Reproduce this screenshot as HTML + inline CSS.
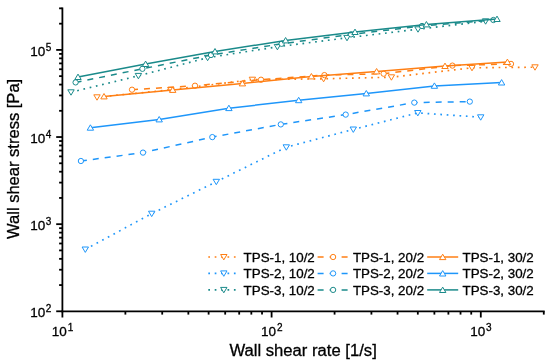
<!DOCTYPE html>
<html><head><meta charset="utf-8"><title>Wall shear stress vs wall shear rate</title>
<style>html,body{margin:0;padding:0;background:#fff}body{width:550px;height:363px;overflow:hidden;font-family:"Liberation Sans",Arial,sans-serif}</style>
</head><body>
<svg width="550" height="363" viewBox="0 0 550 363" style="display:block">
<rect width="550" height="363" fill="#fff"/>
<g><path d="M97.00 97.20 L170.80 89.80 L252.40 79.60 L323.60 78.80 L391.40 77.20 L472.00 67.80 L535.00 67.20" fill="none" stroke="#FF7F14" stroke-width="1.65" stroke-dasharray="1.7 4.7"/>
<polygon points="97.00,100.20 93.80,94.80 100.20,94.80" fill="#fff" stroke="#FF7F14" stroke-width="1" stroke-linejoin="miter"/>
<polygon points="170.80,92.80 167.60,87.40 174.00,87.40" fill="#fff" stroke="#FF7F14" stroke-width="1" stroke-linejoin="miter"/>
<polygon points="252.40,82.60 249.20,77.20 255.60,77.20" fill="#fff" stroke="#FF7F14" stroke-width="1" stroke-linejoin="miter"/>
<polygon points="323.60,81.80 320.40,76.40 326.80,76.40" fill="#fff" stroke="#FF7F14" stroke-width="1" stroke-linejoin="miter"/>
<polygon points="391.40,80.20 388.20,74.80 394.60,74.80" fill="#fff" stroke="#FF7F14" stroke-width="1" stroke-linejoin="miter"/>
<polygon points="472.00,70.80 468.80,65.40 475.20,65.40" fill="#fff" stroke="#FF7F14" stroke-width="1" stroke-linejoin="miter"/>
<polygon points="535.00,70.20 531.80,64.80 538.20,64.80" fill="#fff" stroke="#FF7F14" stroke-width="1" stroke-linejoin="miter"/>
</g>
<g><path d="M132.00 89.70 L195.00 85.70 L261.00 79.70 L324.40 75.10 L383.60 73.70 L452.40 65.60 L511.00 63.90" fill="none" stroke="#FF7F14" stroke-width="1.5" stroke-dasharray="6 6"/>
<circle cx="132.00" cy="89.70" r="2.65" fill="#fff" stroke="#FF7F14" stroke-width="1"/>
<circle cx="195.00" cy="85.70" r="2.65" fill="#fff" stroke="#FF7F14" stroke-width="1"/>
<circle cx="261.00" cy="79.70" r="2.65" fill="#fff" stroke="#FF7F14" stroke-width="1"/>
<circle cx="324.40" cy="75.10" r="2.65" fill="#fff" stroke="#FF7F14" stroke-width="1"/>
<circle cx="383.60" cy="73.70" r="2.65" fill="#fff" stroke="#FF7F14" stroke-width="1"/>
<circle cx="452.40" cy="65.60" r="2.65" fill="#fff" stroke="#FF7F14" stroke-width="1"/>
<circle cx="511.00" cy="63.90" r="2.65" fill="#fff" stroke="#FF7F14" stroke-width="1"/>
</g>
<g><path d="M104.00 96.50 L172.70 90.00 L242.40 83.50 L311.40 76.50 L376.60 71.50 L445.00 66.10 L507.40 62.10" fill="none" stroke="#FF7F14" stroke-width="1.5"/>
<polygon points="104.00,93.50 100.80,98.90 107.20,98.90" fill="#fff" stroke="#FF7F14" stroke-width="1" stroke-linejoin="miter"/>
<polygon points="172.70,87.00 169.50,92.40 175.90,92.40" fill="#fff" stroke="#FF7F14" stroke-width="1" stroke-linejoin="miter"/>
<polygon points="242.40,80.50 239.20,85.90 245.60,85.90" fill="#fff" stroke="#FF7F14" stroke-width="1" stroke-linejoin="miter"/>
<polygon points="311.40,73.50 308.20,78.90 314.60,78.90" fill="#fff" stroke="#FF7F14" stroke-width="1" stroke-linejoin="miter"/>
<polygon points="376.60,68.50 373.40,73.90 379.80,73.90" fill="#fff" stroke="#FF7F14" stroke-width="1" stroke-linejoin="miter"/>
<polygon points="445.00,63.10 441.80,68.50 448.20,68.50" fill="#fff" stroke="#FF7F14" stroke-width="1" stroke-linejoin="miter"/>
<polygon points="507.40,59.10 504.20,64.50 510.60,64.50" fill="#fff" stroke="#FF7F14" stroke-width="1" stroke-linejoin="miter"/>
</g>
<g><path d="M85.30 249.40 L151.70 213.60 L216.30 181.70 L286.30 147.20 L353.30 129.40 L417.80 112.90 L480.70 117.20" fill="none" stroke="#1E96FA" stroke-width="1.65" stroke-dasharray="1.7 4.7"/>
<polygon points="85.30,252.40 82.10,247.00 88.50,247.00" fill="#fff" stroke="#1E96FA" stroke-width="1" stroke-linejoin="miter"/>
<polygon points="151.70,216.60 148.50,211.20 154.90,211.20" fill="#fff" stroke="#1E96FA" stroke-width="1" stroke-linejoin="miter"/>
<polygon points="216.30,184.70 213.10,179.30 219.50,179.30" fill="#fff" stroke="#1E96FA" stroke-width="1" stroke-linejoin="miter"/>
<polygon points="286.30,150.20 283.10,144.80 289.50,144.80" fill="#fff" stroke="#1E96FA" stroke-width="1" stroke-linejoin="miter"/>
<polygon points="353.30,132.40 350.10,127.00 356.50,127.00" fill="#fff" stroke="#1E96FA" stroke-width="1" stroke-linejoin="miter"/>
<polygon points="417.80,115.90 414.60,110.50 421.00,110.50" fill="#fff" stroke="#1E96FA" stroke-width="1" stroke-linejoin="miter"/>
<polygon points="480.70,120.20 477.50,114.80 483.90,114.80" fill="#fff" stroke="#1E96FA" stroke-width="1" stroke-linejoin="miter"/>
</g>
<g><path d="M80.90 161.00 L143.00 152.60 L212.30 137.10 L280.80 124.40 L345.70 114.60 L414.30 102.60 L469.80 101.60" fill="none" stroke="#1E96FA" stroke-width="1.5" stroke-dasharray="6 6"/>
<circle cx="80.90" cy="161.00" r="2.65" fill="#fff" stroke="#1E96FA" stroke-width="1"/>
<circle cx="143.00" cy="152.60" r="2.65" fill="#fff" stroke="#1E96FA" stroke-width="1"/>
<circle cx="212.30" cy="137.10" r="2.65" fill="#fff" stroke="#1E96FA" stroke-width="1"/>
<circle cx="280.80" cy="124.40" r="2.65" fill="#fff" stroke="#1E96FA" stroke-width="1"/>
<circle cx="345.70" cy="114.60" r="2.65" fill="#fff" stroke="#1E96FA" stroke-width="1"/>
<circle cx="414.30" cy="102.60" r="2.65" fill="#fff" stroke="#1E96FA" stroke-width="1"/>
<circle cx="469.80" cy="101.60" r="2.65" fill="#fff" stroke="#1E96FA" stroke-width="1"/>
</g>
<g><path d="M90.40 127.80 L159.20 119.50 L228.90 108.20 L298.70 100.30 L366.30 93.50 L434.40 85.90 L501.60 82.60" fill="none" stroke="#1E96FA" stroke-width="1.5"/>
<polygon points="90.40,124.80 87.20,130.20 93.60,130.20" fill="#fff" stroke="#1E96FA" stroke-width="1" stroke-linejoin="miter"/>
<polygon points="159.20,116.50 156.00,121.90 162.40,121.90" fill="#fff" stroke="#1E96FA" stroke-width="1" stroke-linejoin="miter"/>
<polygon points="228.90,105.20 225.70,110.60 232.10,110.60" fill="#fff" stroke="#1E96FA" stroke-width="1" stroke-linejoin="miter"/>
<polygon points="298.70,97.30 295.50,102.70 301.90,102.70" fill="#fff" stroke="#1E96FA" stroke-width="1" stroke-linejoin="miter"/>
<polygon points="366.30,90.50 363.10,95.90 369.50,95.90" fill="#fff" stroke="#1E96FA" stroke-width="1" stroke-linejoin="miter"/>
<polygon points="434.40,82.90 431.20,88.30 437.60,88.30" fill="#fff" stroke="#1E96FA" stroke-width="1" stroke-linejoin="miter"/>
<polygon points="501.60,79.60 498.40,85.00 504.80,85.00" fill="#fff" stroke="#1E96FA" stroke-width="1" stroke-linejoin="miter"/>
</g>
<g><path d="M71.00 92.20 L138.40 75.80 L207.60 57.70 L277.40 46.80 L347.00 37.80 L418.00 29.20 L485.60 21.20" fill="none" stroke="#1A8A8A" stroke-width="1.65" stroke-dasharray="1.7 4.7"/>
<polygon points="71.00,95.20 67.80,89.80 74.20,89.80" fill="#fff" stroke="#1A8A8A" stroke-width="1" stroke-linejoin="miter"/>
<polygon points="138.40,78.80 135.20,73.40 141.60,73.40" fill="#fff" stroke="#1A8A8A" stroke-width="1" stroke-linejoin="miter"/>
<polygon points="207.60,60.70 204.40,55.30 210.80,55.30" fill="#fff" stroke="#1A8A8A" stroke-width="1" stroke-linejoin="miter"/>
<polygon points="277.40,49.80 274.20,44.40 280.60,44.40" fill="#fff" stroke="#1A8A8A" stroke-width="1" stroke-linejoin="miter"/>
<polygon points="347.00,40.80 343.80,35.40 350.20,35.40" fill="#fff" stroke="#1A8A8A" stroke-width="1" stroke-linejoin="miter"/>
<polygon points="418.00,32.20 414.80,26.80 421.20,26.80" fill="#fff" stroke="#1A8A8A" stroke-width="1" stroke-linejoin="miter"/>
<polygon points="485.60,24.20 482.40,18.80 488.80,18.80" fill="#fff" stroke="#1A8A8A" stroke-width="1" stroke-linejoin="miter"/>
</g>
<g><path d="M75.60 82.40 L142.40 68.80 L211.00 55.00 L281.60 43.80 L351.00 34.40 L422.00 26.00 L493.40 20.00" fill="none" stroke="#1A8A8A" stroke-width="1.5" stroke-dasharray="6 6"/>
<circle cx="75.60" cy="82.40" r="2.65" fill="#fff" stroke="#1A8A8A" stroke-width="1"/>
<circle cx="142.40" cy="68.80" r="2.65" fill="#fff" stroke="#1A8A8A" stroke-width="1"/>
<circle cx="211.00" cy="55.00" r="2.65" fill="#fff" stroke="#1A8A8A" stroke-width="1"/>
<circle cx="281.60" cy="43.80" r="2.65" fill="#fff" stroke="#1A8A8A" stroke-width="1"/>
<circle cx="351.00" cy="34.40" r="2.65" fill="#fff" stroke="#1A8A8A" stroke-width="1"/>
<circle cx="422.00" cy="26.00" r="2.65" fill="#fff" stroke="#1A8A8A" stroke-width="1"/>
<circle cx="493.40" cy="20.00" r="2.65" fill="#fff" stroke="#1A8A8A" stroke-width="1"/>
</g>
<g><path d="M78.00 77.10 L145.60 64.10 L215.00 51.50 L285.60 40.50 L355.00 32.10 L426.40 24.50 L497.00 19.10" fill="none" stroke="#1A8A8A" stroke-width="1.5"/>
<polygon points="78.00,74.10 74.80,79.50 81.20,79.50" fill="#fff" stroke="#1A8A8A" stroke-width="1" stroke-linejoin="miter"/>
<polygon points="145.60,61.10 142.40,66.50 148.80,66.50" fill="#fff" stroke="#1A8A8A" stroke-width="1" stroke-linejoin="miter"/>
<polygon points="215.00,48.50 211.80,53.90 218.20,53.90" fill="#fff" stroke="#1A8A8A" stroke-width="1" stroke-linejoin="miter"/>
<polygon points="285.60,37.50 282.40,42.90 288.80,42.90" fill="#fff" stroke="#1A8A8A" stroke-width="1" stroke-linejoin="miter"/>
<polygon points="355.00,29.10 351.80,34.50 358.20,34.50" fill="#fff" stroke="#1A8A8A" stroke-width="1" stroke-linejoin="miter"/>
<polygon points="426.40,21.50 423.20,26.90 429.60,26.90" fill="#fff" stroke="#1A8A8A" stroke-width="1" stroke-linejoin="miter"/>
<polygon points="497.00,16.10 493.80,21.50 500.20,21.50" fill="#fff" stroke="#1A8A8A" stroke-width="1" stroke-linejoin="miter"/>
</g>
<g stroke="#000" stroke-width="1.8" fill="none" stroke-linecap="butt">
<path d="M62.4 7.44 V312.20"/>
<path d="M61.50 311.3 H544.68"/>
<path d="M56.20 311.30 H62.4"/>
<path d="M59.10 285.07 H62.4"/>
<path d="M59.10 269.73 H62.4"/>
<path d="M59.10 258.84 H62.4"/>
<path d="M59.10 250.40 H62.4"/>
<path d="M59.10 243.50 H62.4"/>
<path d="M59.10 237.67 H62.4"/>
<path d="M59.10 232.61 H62.4"/>
<path d="M59.10 228.16 H62.4"/>
<path d="M56.20 224.17 H62.4"/>
<path d="M59.10 197.94 H62.4"/>
<path d="M59.10 182.60 H62.4"/>
<path d="M59.10 171.71 H62.4"/>
<path d="M59.10 163.27 H62.4"/>
<path d="M59.10 156.37 H62.4"/>
<path d="M59.10 150.54 H62.4"/>
<path d="M59.10 145.48 H62.4"/>
<path d="M59.10 141.03 H62.4"/>
<path d="M56.20 137.04 H62.4"/>
<path d="M59.10 110.81 H62.4"/>
<path d="M59.10 95.47 H62.4"/>
<path d="M59.10 84.58 H62.4"/>
<path d="M59.10 76.14 H62.4"/>
<path d="M59.10 69.24 H62.4"/>
<path d="M59.10 63.41 H62.4"/>
<path d="M59.10 58.35 H62.4"/>
<path d="M59.10 53.90 H62.4"/>
<path d="M56.20 49.91 H62.4"/>
<path d="M59.10 23.68 H62.4"/>
<path d="M59.10 8.34 H62.4"/>
<path d="M62.40 311.3 V317.50"/>
<path d="M125.38 311.3 V314.60"/>
<path d="M162.21 311.3 V314.60"/>
<path d="M188.35 311.3 V314.60"/>
<path d="M208.62 311.3 V314.60"/>
<path d="M225.19 311.3 V314.60"/>
<path d="M239.19 311.3 V314.60"/>
<path d="M251.33 311.3 V314.60"/>
<path d="M262.03 311.3 V314.60"/>
<path d="M271.60 311.3 V317.50"/>
<path d="M334.58 311.3 V314.60"/>
<path d="M371.41 311.3 V314.60"/>
<path d="M397.55 311.3 V314.60"/>
<path d="M417.82 311.3 V314.60"/>
<path d="M434.39 311.3 V314.60"/>
<path d="M448.39 311.3 V314.60"/>
<path d="M460.53 311.3 V314.60"/>
<path d="M471.23 311.3 V314.60"/>
<path d="M480.80 311.3 V317.50"/>
<path d="M543.78 311.3 V314.60"/>
</g>
<g font-family="'Liberation Sans', Arial, sans-serif" fill="#000" stroke="#000" stroke-width="0.3">
<text x="45.3" y="317.10" font-size="13.5" text-anchor="end">10</text>
<text x="45.7" y="312.40" font-size="10">2</text>
<text x="45.3" y="229.97" font-size="13.5" text-anchor="end">10</text>
<text x="45.7" y="225.27" font-size="10">3</text>
<text x="45.3" y="142.84" font-size="13.5" text-anchor="end">10</text>
<text x="45.7" y="138.14" font-size="10">4</text>
<text x="45.3" y="55.71" font-size="13.5" text-anchor="end">10</text>
<text x="45.7" y="51.01" font-size="10">5</text>
<text x="66.90" y="335.9" font-size="13.5" text-anchor="end">10</text>
<text x="67.70" y="330.6" font-size="10">1</text>
<text x="276.10" y="335.9" font-size="13.5" text-anchor="end">10</text>
<text x="276.90" y="330.6" font-size="10">2</text>
<text x="485.30" y="335.9" font-size="13.5" text-anchor="end">10</text>
<text x="486.10" y="330.6" font-size="10">3</text>
<text x="303.1" y="355.9" font-size="16.65" text-anchor="middle">Wall shear rate [1/s]</text>
<text transform="translate(18.5 158.9) rotate(-90)" font-size="16.55" text-anchor="middle">Wall shear stress [Pa]</text>
<path d="M208.30 257.00 H239.30" stroke="#FF7F14" stroke-width="1.65" fill="none" stroke-dasharray="1.7 4.7"/>
<polygon points="223.80,259.90 220.60,254.50 227.00,254.50" fill="#fff" stroke="#FF7F14" stroke-width="1" stroke-linejoin="miter"/>
<text x="243.60" y="261.80" font-size="13.35">TPS-1, 10/2</text>
<path d="M317.60 257.00 H348.60" stroke="#FF7F14" stroke-width="1.5" fill="none" stroke-dasharray="6 6"/>
<circle cx="333.10" cy="257.00" r="2.65" fill="#fff" stroke="#FF7F14" stroke-width="1"/>
<text x="352.90" y="261.80" font-size="13.35">TPS-1, 20/2</text>
<path d="M427.20 257.00 H458.20" stroke="#FF7F14" stroke-width="1.5" fill="none"/>
<polygon points="442.70,254.20 439.50,259.60 445.90,259.60" fill="#fff" stroke="#FF7F14" stroke-width="1" stroke-linejoin="miter"/>
<text x="462.50" y="261.80" font-size="13.35">TPS-1, 30/2</text>
<path d="M208.30 273.40 H239.30" stroke="#1E96FA" stroke-width="1.65" fill="none" stroke-dasharray="1.7 4.7"/>
<polygon points="223.80,276.30 220.60,270.90 227.00,270.90" fill="#fff" stroke="#1E96FA" stroke-width="1" stroke-linejoin="miter"/>
<text x="243.60" y="278.20" font-size="13.35">TPS-2, 10/2</text>
<path d="M317.60 273.40 H348.60" stroke="#1E96FA" stroke-width="1.5" fill="none" stroke-dasharray="6 6"/>
<circle cx="333.10" cy="273.40" r="2.65" fill="#fff" stroke="#1E96FA" stroke-width="1"/>
<text x="352.90" y="278.20" font-size="13.35">TPS-2, 20/2</text>
<path d="M427.20 273.40 H458.20" stroke="#1E96FA" stroke-width="1.5" fill="none"/>
<polygon points="442.70,270.60 439.50,276.00 445.90,276.00" fill="#fff" stroke="#1E96FA" stroke-width="1" stroke-linejoin="miter"/>
<text x="462.50" y="278.20" font-size="13.35">TPS-2, 30/2</text>
<path d="M208.30 289.90 H239.30" stroke="#1A8A8A" stroke-width="1.65" fill="none" stroke-dasharray="1.7 4.7"/>
<polygon points="223.80,292.80 220.60,287.40 227.00,287.40" fill="#fff" stroke="#1A8A8A" stroke-width="1" stroke-linejoin="miter"/>
<text x="243.60" y="294.70" font-size="13.35">TPS-3, 10/2</text>
<path d="M317.60 289.90 H348.60" stroke="#1A8A8A" stroke-width="1.5" fill="none" stroke-dasharray="6 6"/>
<circle cx="333.10" cy="289.90" r="2.65" fill="#fff" stroke="#1A8A8A" stroke-width="1"/>
<text x="352.90" y="294.70" font-size="13.35">TPS-3, 20/2</text>
<path d="M427.20 289.90 H458.20" stroke="#1A8A8A" stroke-width="1.5" fill="none"/>
<polygon points="442.70,287.10 439.50,292.50 445.90,292.50" fill="#fff" stroke="#1A8A8A" stroke-width="1" stroke-linejoin="miter"/>
<text x="462.50" y="294.70" font-size="13.35">TPS-3, 30/2</text>
</g>
</svg>
</body></html>
